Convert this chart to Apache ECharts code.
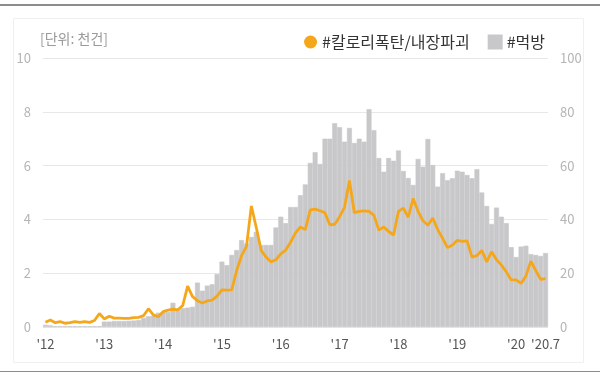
<!DOCTYPE html>
<html>
<head>
<meta charset="utf-8">
<script src="https://cdn.jsdelivr.net/npm/echarts@6/dist/echarts.min.js"></script>
<style>html,body{margin:0;padding:0;background:#fff}#c{width:600px;height:381px}</style>
</head>
<body>
<div id="c"></div>
<script>
// Monthly categories 2012.01 - 2020.07
var years = [2012, 2013, 2014, 2015, 2016, 2017, 2018, 2019, 2020];
var lastMonth = 7;
var tickLabels = ["'12", "'13", "'14", "'15", "'16", "'17", "'18", "'19", "'20", "'20.7"];
var lineName = '#칼로리폭탄/내장파괴';
var barName = '#먹방';
var unitLabel = '[단위: 천건]';

// #칼로리폭탄/내장파괴 (left axis, 천건)
var calorieBomb = [
  0.18,0.26,0.16,0.2,0.14,0.16,0.2,0.17,0.2,0.17,0.24,0.5,
  0.3,0.4,0.33,0.33,0.32,0.32,0.35,0.36,0.42,0.68,0.45,0.38,
  0.57,0.63,0.66,0.64,0.8,1.52,1.13,0.98,0.89,0.97,1.0,1.15,
  1.38,1.37,1.38,2.1,2.65,3.0,4.5,3.7,2.85,2.6,2.42,2.5,
  2.72,2.86,3.15,3.5,3.72,3.62,4.35,4.38,4.32,4.25,3.8,3.82,
  4.1,4.45,5.45,4.25,4.3,4.32,4.3,4.15,3.6,3.72,3.55,3.42,
  4.3,4.42,4.08,4.78,4.3,3.95,3.78,4.05,3.62,3.3,2.95,3.05,
  3.22,3.18,3.2,2.6,2.65,2.85,2.42,2.8,2.5,2.3,2.05,1.75,
  1.75,1.62,1.9,2.45,2.1,1.77,1.8
];

// #먹방 (right axis, 천건)
var mukbang = [
  0.8,0.6,0.3,0.3,0.3,0.3,0.3,0.3,0.3,0.3,0.3,0.3,
  2.0,2.0,2.2,2.2,2.2,2.3,2.4,2.6,3.4,4.0,4.2,5.3,
  5.6,5.6,9.0,6.3,7.0,7.2,7.5,16.5,13.5,15.4,15.9,19.7,
  24.3,23,26.8,28.6,32.3,31,33.5,35.4,30.5,30.5,30.5,37,
  41,38.6,44.6,44.6,49,53,61,65,60.6,70,70,75.8,
  74.3,68.9,74,68.4,70,68.9,81,73.2,62.8,57.7,62.8,61.8,
  65.6,58,55.4,52.8,62.5,59.6,69.9,60.2,52.2,57.2,54.6,55.3,
  58.1,57.7,56.5,55.3,58.7,50,45,38.3,44.4,41,38.6,29.7,
  26,29.9,30.2,27.1,26.8,26.4,27.5
];

var categories = [];
years.forEach(function (y) {
  var n = (y === years[years.length - 1]) ? lastMonth : 12;
  for (var m = 1; m <= n; m++) categories.push(y + '.' + m);
});

function tickFor(idx) {
  if (idx === categories.length - 1) return tickLabels[tickLabels.length - 1];
  if (idx % 12 === 0) return tickLabels[idx / 12];
  return null;
}

var FONT = '"Noto Sans CJK KR", "Noto Sans", sans-serif';
var chart = echarts.init(document.getElementById('c'), null, {renderer: 'canvas'});
chart.setOption({
  animation: false,
  backgroundColor: '#fff',
  textStyle: {fontFamily: FONT},
  grid: {left: 43, right: 52, top: 58, bottom: 54, containLabel: false},
  legend: {
    right: 50, top: 29,
    itemGap: 18, itemWidth: 13, itemHeight: 13,
    textStyle: {fontSize: 16, color: '#333', fontFamily: FONT},
    data: [
      {name: lineName, icon: 'circle'},
      {name: barName, icon: 'rect'}
    ]
  },
  graphic: [
    {type: 'rect', shape: {x: 0, y: 4, width: 600, height: 2}, style: {fill: '#8c8c8c'}, silent: true},
    {type: 'rect', shape: {x: 0, y: 371, width: 600, height: 1}, style: {fill: '#8c8c8c'}, silent: true},
    {type: 'rect', shape: {x: 13.5, y: 18.5, width: 570, height: 344}, style: {fill: 'none', stroke: '#f0f0f0', lineWidth: 1}, silent: true},
    {type: 'text', left: 40, top: 32, style: {text: unitLabel, fill: '#9a9a9a', fontSize: 14, fontFamily: FONT}, silent: true}
  ],
  xAxis: {
    type: 'category',
    data: categories,
    boundaryGap: true,
    axisLine: {show: false},
    axisTick: {show: false},
    axisLabel: {
      interval: function (idx) { return tickFor(idx) !== null; },
      formatter: function (v, idx) { return tickFor(idx) || ''; },
      color: '#555', fontSize: 13, margin: 11, fontFamily: FONT
    },
    splitLine: {show: false}
  },
  yAxis: [
    {
      type: 'value', min: 0, max: 10, interval: 2, position: 'left',
      axisLine: {show: false}, axisTick: {show: false},
      axisLabel: {color: '#b5b5b5', fontSize: 13, margin: 12, fontFamily: FONT},
      splitLine: {show: true, lineStyle: {color: '#e8e8e8', width: 1}}
    },
    {
      type: 'value', min: 0, max: 100, interval: 20, position: 'right',
      axisLine: {show: false}, axisTick: {show: false},
      axisLabel: {color: '#b5b5b5', fontSize: 13, margin: 12, fontFamily: FONT},
      splitLine: {show: false}
    }
  ],
  series: [
    {
      name: barName, type: 'bar', yAxisIndex: 1, data: mukbang,
      barWidth: '100%', barGap: '-100%', barCategoryGap: 0,
      itemStyle: {color: '#c8c8ca', borderColor: '#c8c8ca', borderWidth: 0.6}, z: 1
    },
    {
      name: lineName, type: 'line', yAxisIndex: 0, data: calorieBomb,
      symbol: 'none', smooth: false,
      lineStyle: {color: '#f5a71c', width: 2.8},
      itemStyle: {color: '#f5a71c'}, z: 3
    }
  ]
});
</script>
</body>
</html>
